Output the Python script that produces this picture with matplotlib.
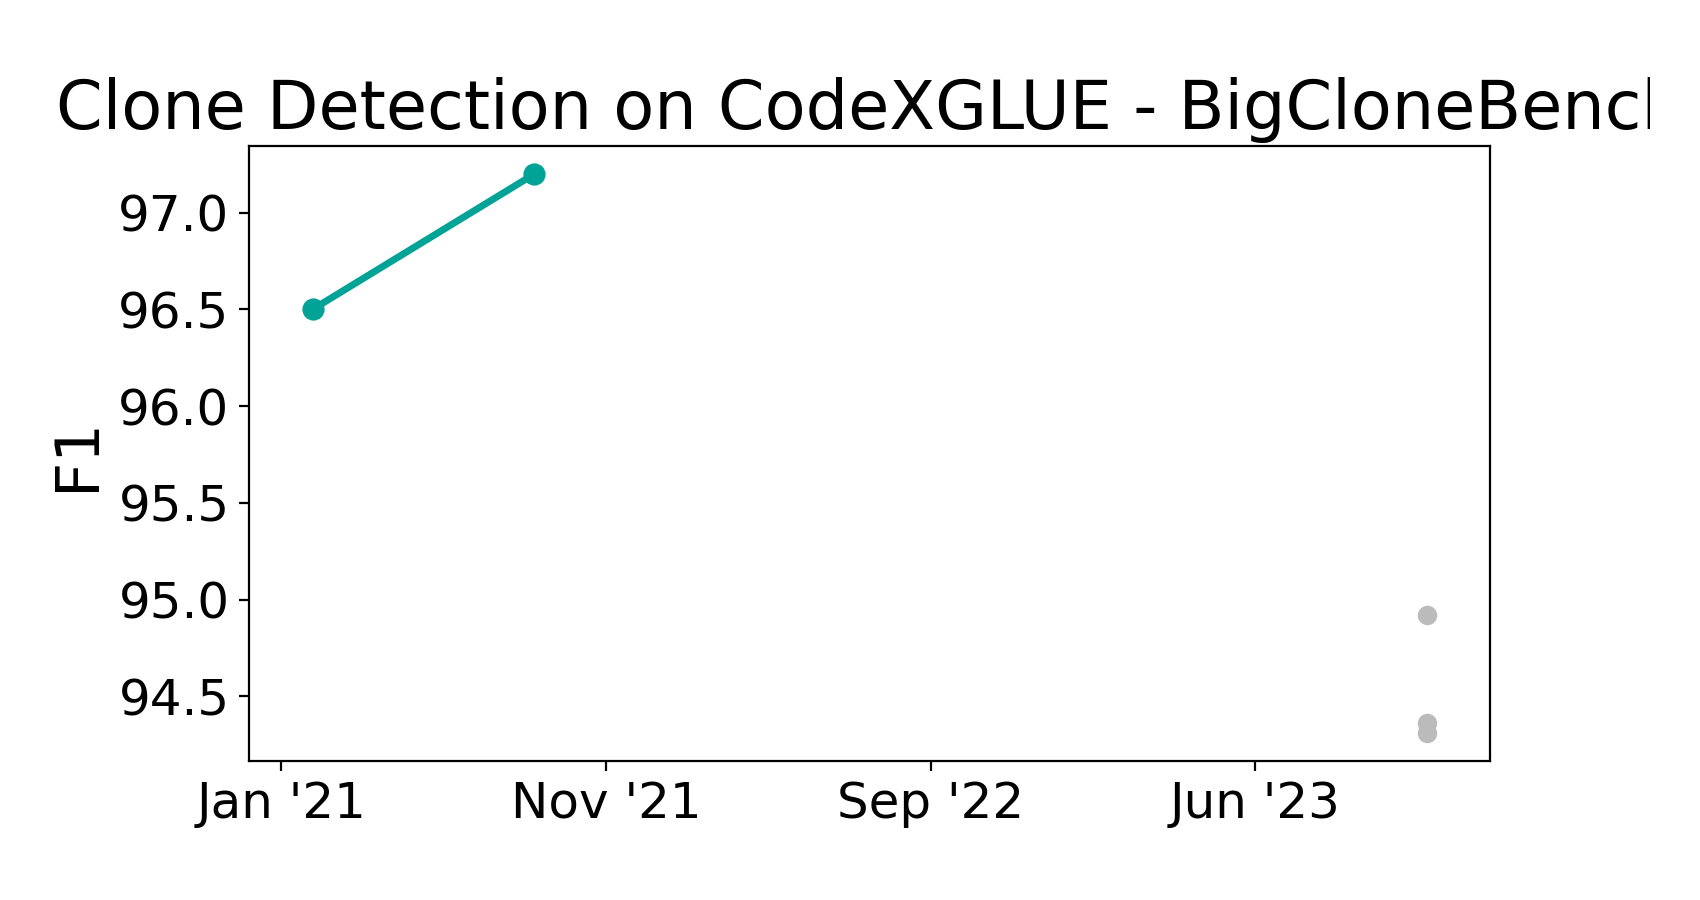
import numpy as np
import pandas as pd
import matplotlib
matplotlib.use('Agg')
import matplotlib.pyplot as plt
import matplotlib.dates as mdates
from matplotlib.ticker import MultipleLocator, FormatStrFormatter
from matplotlib.transforms import Bbox, TransformedBbox

# best results (line) and other submissions (gray dots)
best_dates = ['2021-02-08', '2021-09-01']
best_f1 = [96.5, 97.2]
other_dates = ['2023-12-04', '2023-12-04', '2023-12-04']
other_f1 = [94.92, 94.36, 94.31]

tick_start = '2021-01-10'
tick_step_days = 300
tick_count = 4

title = 'Clone Detection on CodeXGLUE - BigCloneBench'


def sota_plot():
    best_x = mdates.date2num(pd.to_datetime(best_dates))
    other_x = mdates.date2num(pd.to_datetime(other_dates))

    fig = plt.figure(figsize=(8.5, 4.5), dpi=200)
    ax = fig.add_axes([0.1465, 0.1544, 0.73, 0.6834])

    ax.plot(other_x, other_f1, 'o', color='#bbbbbb', markersize=6, zorder=2)
    ax.plot(best_x, best_f1, '-o', color='#00a396', linewidth=2.5,
            markersize=7, zorder=3)
    ax.margins(x=0.057)

    # equally spaced date ticks
    t0 = mdates.date2num(pd.Timestamp(tick_start))
    ticks = t0 + tick_step_days * np.arange(tick_count)
    ax.set_xticks(ticks)
    ax.xaxis.set_major_formatter(mdates.DateFormatter("%b '%y"))
    ax.yaxis.set_major_locator(MultipleLocator(0.5))
    ax.yaxis.set_major_formatter(FormatStrFormatter('%.1f'))
    ax.tick_params(labelsize=18)

    ax.set_ylabel('F1', fontsize=22)
    t = ax.set_title(title, fontsize=24.1)
    # title runs off the right side of the picture
    t.set_clip_box(TransformedBbox(Bbox([[0, 0], [1650 / 1700, 1]]),
                                   fig.transFigure))
    t.set_clip_on(True)

    fig.savefig('out.png', dpi=200)


if __name__ == '__main__':
    sota_plot()
